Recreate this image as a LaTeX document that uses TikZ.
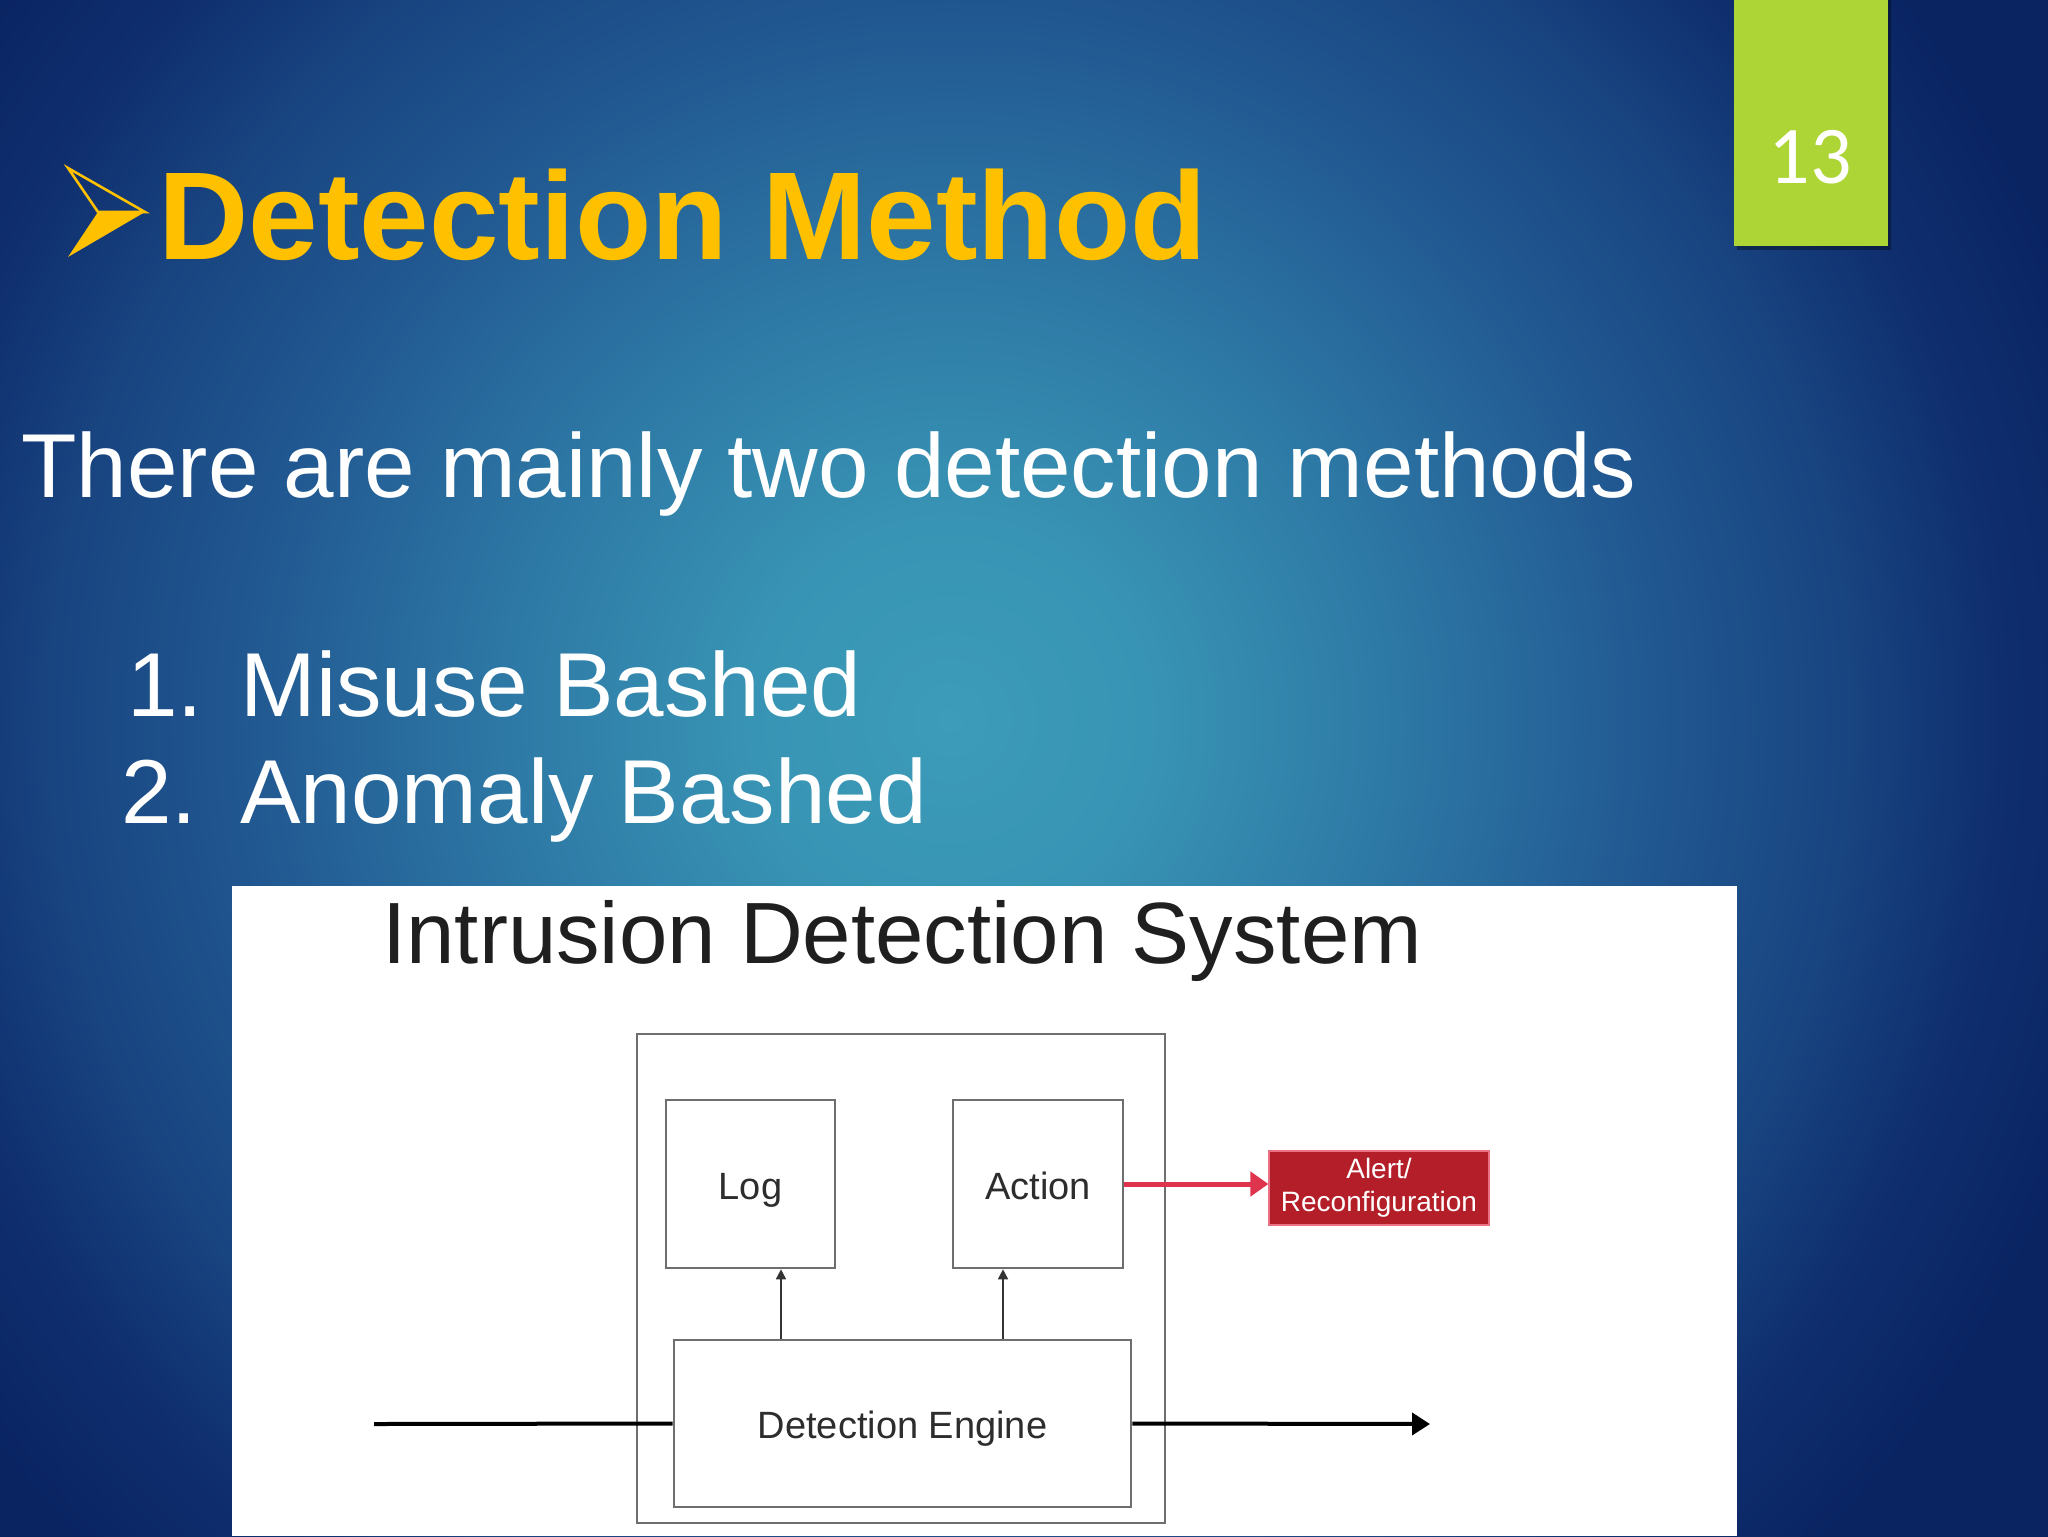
\documentclass[tikz,border=0pt]{standalone}
\usepackage{fontspec}
\setmainfont{Liberation Sans}
\newfontfamily\numfont{Carlito}
\usetikzlibrary{arrows.meta}
\definecolor{bgA}{RGB}{60,156,185}
\definecolor{bgB}{RGB}{56,148,180}
\definecolor{bgC}{RGB}{45,120,165}
\definecolor{bgE}{RGB}{33,88,145}
\definecolor{bgF}{RGB}{24,68,128}
\definecolor{bgG}{RGB}{15,46,110}
\definecolor{bgD}{RGB}{10,36,98}
\definecolor{titleyellow}{RGB}{255,192,0}
\definecolor{pagegreen}{RGB}{173,213,54}
\definecolor{boxgray}{RGB}{110,110,110}
\definecolor{labelgray}{RGB}{45,45,45}
\definecolor{redline}{RGB}{222,52,78}
\definecolor{redfill}{RGB}{180,30,40}
\pgfdeclareradialshading{bgshade}{\pgfpoint{0bp}{0bp}}{color(0bp)=(bgA); color(3.3bp)=(bgB); color(7.5bp)=(bgC); color(11.7bp)=(bgE); color(15bp)=(bgF); color(17.5bp)=(bgG); color(20bp)=(bgD); color(50bp)=(bgD)}
\begin{document}
\begin{tikzpicture}[x=0.5pt,y=-0.5pt,
  box/.style={draw=boxgray, line width=1.3pt, fill=white, inner sep=0pt},
  lbl/.style={font=\fontsize{19}{19}\selectfont, text=labelgray, text height=18pt, text depth=3pt},
  thinarrow/.style={draw=black!80, line width=0.8pt, -{Triangle[length=5pt,width=5pt]}},
  flowline/.style={draw=black, line width=2pt},
  flowarrow/.style={flowline, -{Triangle[length=9pt,width=11pt]}},
  redarrow/.style={draw=redline, line width=2.5pt, -{Triangle[length=9pt,width=12pt]}},
  bodytext/.style={anchor=base west, inner sep=0pt, text=white, font=\fontsize{45.4}{45.4}\selectfont}
]
\useasboundingbox (0,0) rectangle (2048,1536);
% background
\begin{scope}
  \clip (0,0) rectangle (2048,1536);
  \fill[bgD] (0,0) rectangle (2048,1536);
  \shade[shading=bgshade] (950,720) circle (750pt);
\end{scope}
% page number tab
\fill[black, opacity=0.35] (1737,0) rectangle (1891,250);
\fill[pagegreen] (1734,0) rectangle (1888,246);
\node[inner sep=0pt, text=white, font=\numfont\fontsize{41}{41}\selectfont] (pnum) at (1810,157) {13};
% title
\fill[titleyellow] (98,212) -- (145,212) -- (68,257) -- cycle;
\draw[titleyellow, line width=1.3pt, line join=miter] (68,168) -- (145,212) -- (98,212) -- cycle;
\node[anchor=base west, inner sep=0pt, text=titleyellow, font=\bfseries\fontsize{62.5}{62.5}\selectfont] (title) at (158,259) {Detection Method};
% body text
\node[bodytext] (intro) at (21,497) {There are mainly two detection methods};
\node[bodytext] (n1) at (127,716) {1.};
\node[bodytext] (t1) at (240,716) {Misuse Bashed};
\node[bodytext] (n2) at (121,823) {2.};
\node[bodytext] (t2) at (240,823) {Anomaly Bashed};
% diagram panel
\fill[white] (232,886) rectangle (1737,1536);
\node[anchor=base west, inner sep=0pt, text=black!88, font=\fontsize{43.5}{43.5}\selectfont] (ids) at (382,963) {Intrusion Detection System};
\node[box, line width=1.1pt, minimum width=264pt, minimum height=244.5pt] (outer) at (901,1278.5) {};
\coordinate (inp) at (374,1424);
\coordinate (outp) at (1430,1424);
\coordinate (lx) at (781,0);
\coordinate (ax) at (1003,0);
\node[box, minimum width=228.5pt, minimum height=83.5pt, lbl] (DE) at (902.5,1423.5) {Detection Engine};
\node[box, minimum width=84.5pt, minimum height=84pt, lbl] (Log) at (750.5,1184) {Log};
\node[box, minimum width=85pt, minimum height=84pt, lbl] (Action) at (1038,1184) {Action};
\node[fill=redfill, draw=redline!70, line width=0.6pt, minimum width=110pt, minimum height=37pt, inner sep=0pt, text=white, align=center, font=\fontsize{14}{16.5}\selectfont] (Alert) at (1379,1188) {Alert/\\Reconfiguration};
\draw[flowline] (inp) -- (DE.west);
\draw[flowarrow] (DE.east) -- (outp);
\draw[thinarrow] (DE.north -| lx) -- (Log.south -| lx);
\draw[thinarrow] (DE.north -| ax) -- (Action.south -| ax);
\draw[redarrow] (Action.east) -- (Alert.west |- Action.east);
\end{tikzpicture}
\end{document}
